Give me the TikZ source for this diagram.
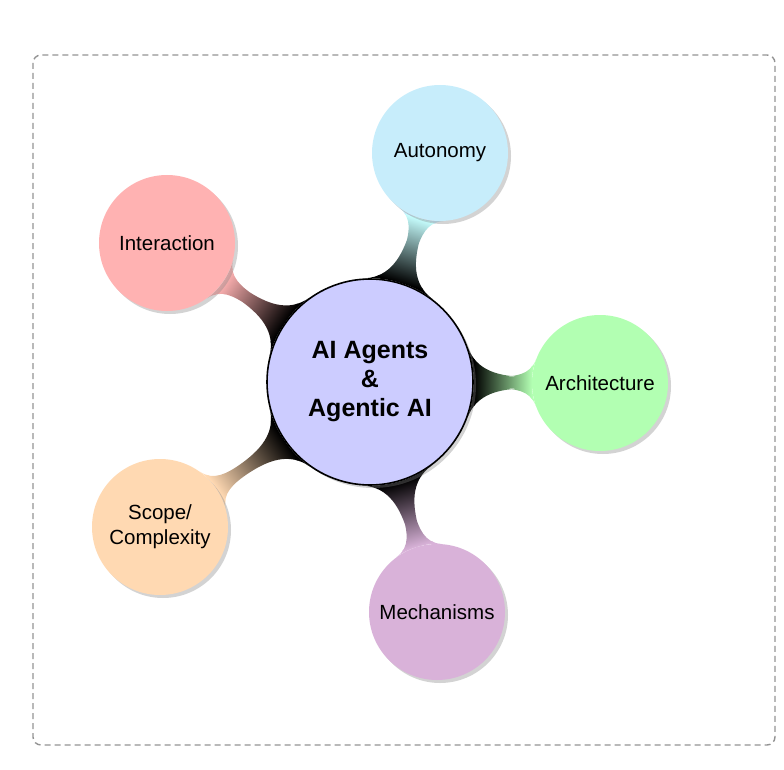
\documentclass[tikz,border=0pt]{standalone}
\usepackage{fontspec}
\setmainfont{Liberation Sans}
\usetikzlibrary{mindmap,shadows,backgrounds}
\begin{document}
\begin{tikzpicture}[x=1pt,y=-1pt,
  kid/.style={circle,minimum size=136pt,inner sep=0pt,align=center,font=\fontsize{20.5}{25}\selectfont,drop shadow={opacity=0.35,shadow xshift=3pt,shadow yshift=-3pt}},
  hub/.style={circle,draw=black,line width=1.6pt,fill=blue!20,minimum size=206pt,inner sep=0pt,align=center,font=\bfseries\fontsize{25}{29}\selectfont,drop shadow={opacity=0.35,shadow xshift=3pt,shadow yshift=-3pt}},
  frame/.style={draw=gray!85,dash pattern=on 6pt off 4pt,line width=1.4pt,rounded corners=8pt}]
\useasboundingbox (0,0) rectangle (784,770);
\draw[frame] (33,55) rectangle (775,745);
\node[hub] (c) at (370,382) {AI Agents\\\&\\Agentic AI};
\node[kid,fill=cyan!22] (au) at (440,153) {Autonomy};
\node[kid,fill=red!30] (in) at (167,243) {Interaction};
\node[kid,fill=green!30] (ar) at (600,383) {Architecture};
\node[kid,fill=orange!30] (sc) at (160,527) {Scope/\\Complexity};
\node[kid,fill=violet!30] (me) at (437,612) {Mechanisms};
\begin{pgfonlayer}{background}
\path (c) to[circle connection bar switch color=from (black) to (cyan!22)] (au);
\path (c) to[circle connection bar switch color=from (black) to (red!30)] (in);
\path (c) to[circle connection bar switch color=from (black) to (green!30)] (ar);
\path (c) to[circle connection bar switch color=from (black) to (orange!30)] (sc);
\path (c) to[circle connection bar switch color=from (black) to (violet!30)] (me);
\end{pgfonlayer}
\end{tikzpicture}
\end{document}
